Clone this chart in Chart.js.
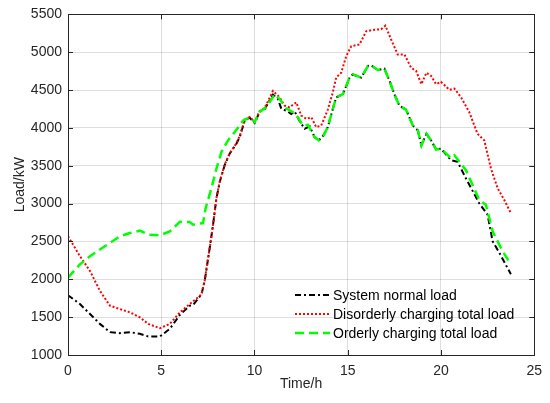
<!DOCTYPE html>
<html>
<head>
<meta charset="utf-8">
<script src="https://cdn.jsdelivr.net/npm/chart.js@4/dist/chart.umd.min.js"></script>
<style>
html,body{margin:0;padding:0;background:#fff;}
#wrap{width:550px;height:403px;}
</style>
</head>
<body>
<div id="wrap"><canvas id="c" width="550" height="403"></canvas></div>
<script>
// ---- data ----
const normalTime = [0,0.64,1.18,1.71,2.25,2.78,3.32,3.85,4.3,4.93,5.46,6.0,6.53,6.71,7.16,7.33,7.6,7.78,7.96,8.14,8.4,8.67,9.03,9.21,9.48,9.74,10.01,10.28,10.55,10.99,11.26,11.44,11.7,11.97,12.15,12.42,12.69,12.96,13.22,13.45,13.7,13.93,14.2,14.38,14.74,15.1,15.27,15.72,16.08,16.26,16.61,16.97,17.24,17.5,17.77,18.13,18.49,18.76,18.95,19.22,19.47,19.74,20.0,20.54,20.89,21.34,22.05,22.5,22.77,23.13,23.75];
const normalLoad = [1790,1673,1542,1411,1302,1288,1302,1280,1245,1245,1346,1530,1651,1660,1804,1979,2415,2722,3071,3289,3508,3660,3791,3879,4100,4135,4065,4215,4250,4440,4381,4250,4229,4185,4220,4090,3988,4020,3879,3836,3901,4010,4250,4403,4447,4665,4708,4665,4818,4826,4765,4783,4622,4447,4294,4240,4032,3967,3770,3922,3836,3715,3726,3574,3552,3333,3005,2853,2503,2350,2067];

const disorderTime = [0,0.64,1.18,1.71,2.25,2.78,3.32,3.85,4.3,4.93,5.46,6.0,6.53,7.07,7.16,7.33,7.6,7.78,7.96,8.14,8.4,8.67,9.03,9.21,9.48,9.74,10.01,10.28,10.55,10.99,11.35,11.62,11.88,12.24,12.51,12.78,13.05,13.31,13.58,13.93,14.2,14.38,14.65,14.92,15.19,15.63,15.99,16.43,16.79,17.02,17.33,17.68,18.04,18.4,18.67,18.95,19.22,19.47,19.74,20.0,20.45,20.72,21.08,21.52,21.96,22.32,22.68,23.04,23.39,23.75];
const disorderLoad = [2569,2306,2110,1848,1651,1608,1564,1498,1411,1354,1411,1564,1673,1782,1810,1985,2420,2727,3076,3294,3513,3665,3796,3895,4110,4145,4080,4225,4265,4490,4403,4294,4272,4338,4163,4120,4141,4010,4032,4240,4469,4665,4730,4949,5080,5102,5277,5298,5303,5351,5167,4971,4971,4796,4752,4578,4730,4687,4578,4609,4504,4520,4403,4207,3922,3836,3464,3202,3050,2874];

const orderTime = [0,0.64,1.18,1.71,2.25,2.78,3.32,3.85,4.3,4.93,5.46,6.0,6.53,6.71,7.24,7.38,7.69,7.96,8.23,8.58,8.94,9.39,9.74,10.01,10.28,10.64,11.08,11.35,11.7,12.06,12.33,12.6,12.87,13.22,13.45,13.7,13.93,14.2,14.38,14.74,15.1,15.27,15.72,16.08,16.26,16.61,16.97,17.24,17.5,17.77,18.13,18.49,18.76,18.95,19.22,19.47,19.74,20.0,20.54,20.72,21.34,22.05,22.41,22.77,23.3,23.75];
const orderLoad = [2022,2198,2306,2394,2481,2569,2612,2643,2591,2582,2634,2760,2756,2722,2743,2940,3202,3464,3683,3836,3945,4098,4141,4076,4216,4272,4446,4381,4260,4207,4141,4030,4040,3879,3836,3901,4010,4250,4403,4447,4665,4708,4665,4818,4826,4765,4783,4622,4447,4294,4240,4032,3967,3770,3922,3836,3715,3726,3600,3639,3442,3050,2984,2634,2372,2198];

const seriesLabels = ['System normal load','Disorderly charging total load','Orderly charging total load'];
const xTicks = [0,5,10,15,20,25];
const yTicks = [1000,1500,2000,2500,3000,3500,4000,4500,5000,5500];

function pts(t, v){ return t.map((x,i)=>({x:x, y:v[i]})); }

const FONT = '"Liberation Sans", Arial, sans-serif';
const TXT = '#262626';

const styles = [
  {color:'#000000', dash:[6,3,2,3], width:2, order:3},
  {color:'#ff0000', dash:[2,2], width:2, order:2},
  {color:'#00ff00', dash:[9,5], width:2.5, order:1}
];

const boxPlugin = {
  id:'box',
  afterDraw(chart){
    const ctx = chart.ctx, a = chart.chartArea;
    const xs = chart.scales.x, ys = chart.scales.y;
    ctx.save();
    ctx.strokeStyle = TXT; ctx.lineWidth = 1;
    ctx.strokeRect(Math.round(a.left)+0.5, Math.round(a.top)+0.5, Math.round(a.right-a.left), Math.round(a.bottom-a.top));
    ctx.beginPath();
    xTicks.forEach(v=>{
      const px = Math.round(xs.getPixelForValue(v))+0.5;
      ctx.moveTo(px, a.bottom); ctx.lineTo(px, a.bottom-5);
      ctx.moveTo(px, a.top); ctx.lineTo(px, a.top+5);
    });
    yTicks.forEach(v=>{
      const py = Math.round(ys.getPixelForValue(v))+0.5;
      ctx.moveTo(a.left, py); ctx.lineTo(a.left+5, py);
      ctx.moveTo(a.right, py); ctx.lineTo(a.right-5, py);
    });
    ctx.stroke();
    // legend
    const lx0 = 295, lx1 = 330, ty = [295, 314, 333];
    ctx.font = '14px ' + FONT;
    ctx.textBaseline = 'middle';
    ctx.fillStyle = '#000';
    chart.data.datasets.forEach((ds,i)=>{
      ctx.beginPath();
      ctx.setLineDash(ds.borderDash);
      ctx.lineWidth = ds.borderWidth;
      ctx.strokeStyle = ds.borderColor;
      ctx.moveTo(lx0, ty[i]); ctx.lineTo(lx1, ty[i]);
      ctx.stroke();
      ctx.setLineDash([]);
      ctx.fillText(ds.label, 333, ty[i]+1);
    });
    ctx.restore();
  }
};

new Chart(document.getElementById('c'), {
  type:'line',
  data:{
    datasets:[
      {label:seriesLabels[0], data:pts(normalTime, normalLoad)},
      {label:seriesLabels[1], data:pts(disorderTime, disorderLoad)},
      {label:seriesLabels[2], data:pts(orderTime, orderLoad)}
    ].map((d,i)=>Object.assign(d,{
      borderColor:styles[i].color, borderDash:styles[i].dash, borderWidth:styles[i].width,
      order:styles[i].order, pointRadius:0, tension:0, fill:false
    }))
  },
  options:{
    responsive:false, animation:false, devicePixelRatio:1,
    layout:{padding:{top:11, right:15, left:0, bottom:0}},
    plugins:{legend:{display:false}, tooltip:{enabled:false}},
    scales:{
      x:{
        type:'linear', min:0, max:25,
        afterBuildTicks(s){ s.ticks = xTicks.map(v=>({value:v})); },
        afterFit(s){ s.height = 48; },
        grid:{color:'rgba(0,0,0,0.13)', drawTicks:false},
        border:{display:false},
        ticks:{color:TXT, font:{family:FONT, size:14}, padding:8, maxRotation:0, callback:v=>String(v)},
        title:{display:true, text:'Time/h', color:TXT, font:{family:FONT, size:14}, padding:{top:0, bottom:10}}
      },
      y:{
        type:'linear', min:1000, max:5500,
        afterBuildTicks(s){ s.ticks = yTicks.map(v=>({value:v})); },
        afterFit(s){ s.width = 68; },
        grid:{color:'rgba(0,0,0,0.13)', drawTicks:false},
        border:{display:false},
        ticks:{color:TXT, font:{family:FONT, size:14}, padding:6, callback:v=>String(v)},
        title:{display:true, text:'Load/kW', color:TXT, font:{family:FONT, size:14}, padding:{top:12, bottom:0}}
      }
    }
  },
  plugins:[boxPlugin]
});
</script>
</body>
</html>
